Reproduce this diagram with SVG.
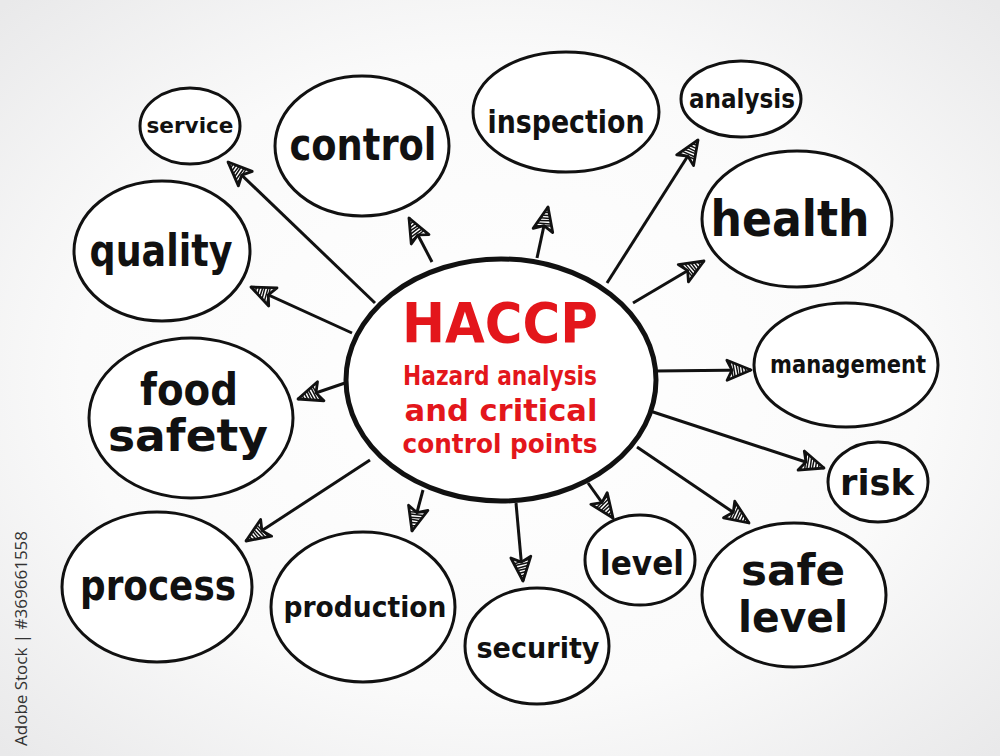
<svg xmlns="http://www.w3.org/2000/svg" width="1000" height="756" viewBox="0 0 1000 756">
<defs>
<radialGradient id="bg" cx="50%" cy="50%" r="70%">
<stop offset="0" stop-color="#ffffff"/>
<stop offset="0.6" stop-color="#fafafa"/>
<stop offset="1" stop-color="#e9e9ea"/>
</radialGradient>
<marker id="ah" viewBox="0 0 28 24" refX="26" refY="12" markerWidth="28" markerHeight="24" markerUnits="userSpaceOnUse" orient="auto">
<path d="M2,2 L26,12 L2,22 L7,12 Z" fill="#fff" stroke="#111" stroke-width="2.8" stroke-linejoin="round"/>
<path d="M5,4 L8,19 M8,5 L10,18 M11,6 L13,17 M14,7 L15,16 M17,9 L18,15 M20,10 L21,14" stroke="#111" stroke-width="1.5"/>
</marker>
<style>
.n{fill:#fff;stroke:#111;stroke-width:3}
.t{font-family:"DejaVu Sans",sans-serif;font-weight:bold;fill:#111;text-anchor:middle}
.r{font-family:"DejaVu Sans",sans-serif;font-weight:bold;fill:#e3161b;text-anchor:middle}
.c line{stroke:#111;stroke-width:3;marker-end:url(#ah)}
</style>
</defs>
<rect width="1000" height="756" fill="url(#bg)"/>
<text x="27" y="746" transform="rotate(-90 27 746)" font-family="Open Sans, sans-serif" font-size="17" fill="#333">Adobe Stock | #369661558</text>

<g id="connectors" class="c">
<line x1="375" y1="303" x2="228" y2="162"/>
<line x1="432" y1="262" x2="409" y2="218"/>
<line x1="537" y1="258" x2="548" y2="207"/>
<line x1="607" y1="283" x2="698" y2="140"/>
<line x1="633" y1="303" x2="704" y2="261"/>
<line x1="352" y1="333" x2="251" y2="287"/>
<line x1="345" y1="383" x2="298" y2="399"/>
<line x1="655" y1="371" x2="751" y2="370"/>
<line x1="650" y1="411" x2="824" y2="468"/>
<line x1="637" y1="447" x2="749" y2="523"/>
<line x1="588" y1="483" x2="613" y2="518"/>
<line x1="516" y1="503" x2="523" y2="581"/>
<line x1="423" y1="490" x2="412" y2="531"/>
<line x1="370" y1="460" x2="246" y2="541"/>
</g>

<g id="center">
<ellipse cx="501" cy="380" rx="155" ry="121" fill="#fff" stroke="#111" stroke-width="5"/>
<text class="r" x="500" y="342" font-size="56" textLength="196" lengthAdjust="spacingAndGlyphs">HACCP</text>
<text class="r" x="500" y="385" font-size="27" textLength="194" lengthAdjust="spacingAndGlyphs">Hazard analysis</text>
<text class="r" x="501" y="421" font-size="31" textLength="193" lengthAdjust="spacingAndGlyphs">and critical</text>
<text class="r" x="500" y="453" font-size="27" textLength="195" lengthAdjust="spacingAndGlyphs">control points</text>
</g>

<g id="service"><ellipse class="n" cx="190" cy="126" rx="50" ry="38"/><text class="t" x="190" y="133" font-size="22" textLength="87" lengthAdjust="spacingAndGlyphs">service</text></g>
<g id="control"><ellipse class="n" cx="362" cy="146" rx="87" ry="70"/><text class="t" x="363" y="160" font-size="44" textLength="147" lengthAdjust="spacingAndGlyphs">control</text></g>
<g id="inspection"><ellipse class="n" cx="566" cy="112" rx="93" ry="60"/><text class="t" x="566" y="133" font-size="32" textLength="157" lengthAdjust="spacingAndGlyphs">inspection</text></g>
<g id="analysis"><ellipse class="n" cx="741" cy="99" rx="60" ry="38"/><text class="t" x="742" y="108" font-size="26" textLength="106" lengthAdjust="spacingAndGlyphs">analysis</text></g>
<g id="health"><ellipse class="n" cx="797" cy="219" rx="95" ry="68"/><text class="t" x="790" y="236" font-size="50" textLength="159" lengthAdjust="spacingAndGlyphs">health</text></g>
<g id="quality"><ellipse class="n" cx="162" cy="251" rx="88" ry="70"/><text class="t" x="161" y="266" font-size="44" textLength="143" lengthAdjust="spacingAndGlyphs">quality</text></g>
<g id="management"><ellipse class="n" cx="846" cy="365" rx="92" ry="62"/><text class="t" x="848" y="373" font-size="24" textLength="156" lengthAdjust="spacingAndGlyphs">management</text></g>
<g id="food-safety"><ellipse class="n" cx="191" cy="418" rx="102" ry="80"/><text class="t" x="189" y="405" font-size="44" textLength="98" lengthAdjust="spacingAndGlyphs">food</text><text class="t" x="188" y="451" font-size="44" textLength="160" lengthAdjust="spacingAndGlyphs">safety</text></g>
<g id="risk"><ellipse class="n" cx="878" cy="482" rx="50" ry="40"/><text class="t" x="877" y="495" font-size="36" textLength="74" lengthAdjust="spacingAndGlyphs">risk</text></g>
<g id="process"><ellipse class="n" cx="157" cy="587" rx="95" ry="75"/><text class="t" x="158" y="600" font-size="42" textLength="156" lengthAdjust="spacingAndGlyphs">process</text></g>
<g id="production"><ellipse class="n" cx="363" cy="607" rx="92" ry="75"/><text class="t" x="365" y="617" font-size="28" textLength="163" lengthAdjust="spacingAndGlyphs">production</text></g>
<g id="security"><ellipse class="n" cx="537" cy="646" rx="72" ry="58"/><text class="t" x="538" y="658" font-size="28" textLength="123" lengthAdjust="spacingAndGlyphs">security</text></g>
<g id="level"><ellipse class="n" cx="640" cy="560" rx="55" ry="45"/><text class="t" x="642" y="575" font-size="34" textLength="84" lengthAdjust="spacingAndGlyphs">level</text></g>
<g id="safe-level"><ellipse class="n" cx="794" cy="595" rx="92" ry="72"/><text class="t" x="793" y="585" font-size="42" textLength="104" lengthAdjust="spacingAndGlyphs">safe</text><text class="t" x="793" y="632" font-size="42" textLength="110" lengthAdjust="spacingAndGlyphs">level</text></g>
</svg>
